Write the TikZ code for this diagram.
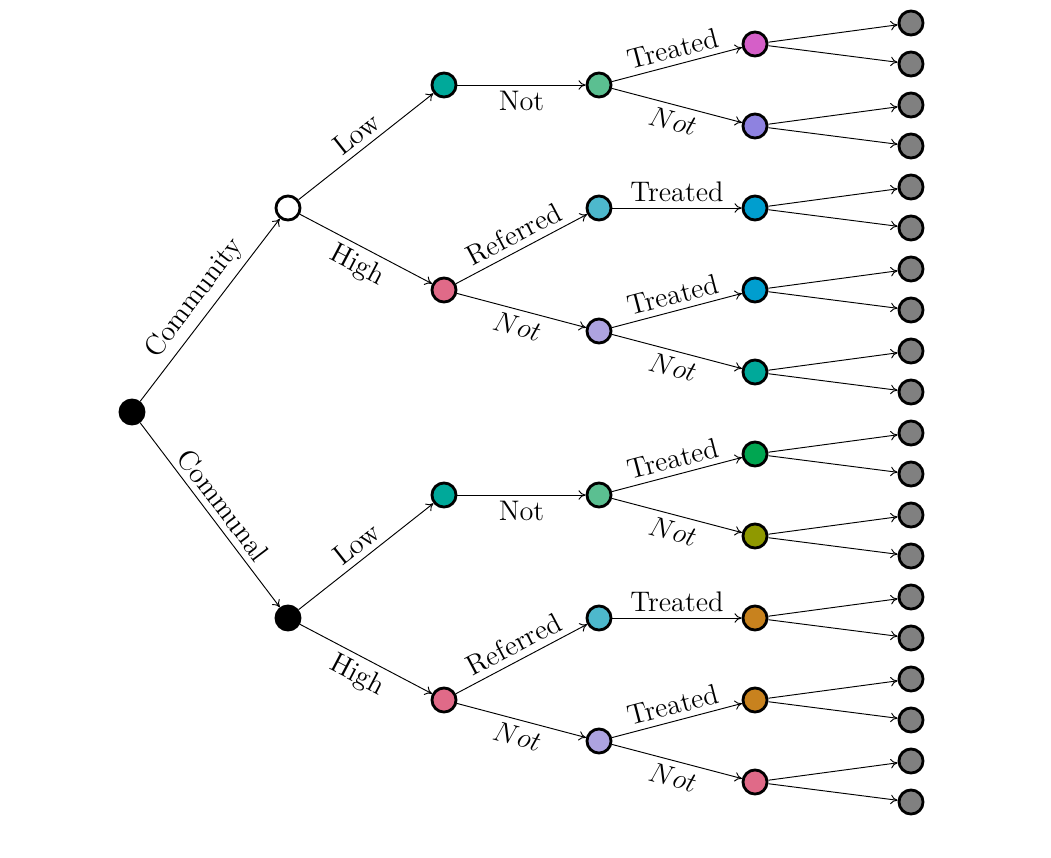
\documentclass[tikz,border=0pt]{standalone}
\usetikzlibrary{arrows.meta}
\definecolor{cteal}{HTML}{00A99A}
\definecolor{cmint}{HTML}{5BBF91}
\definecolor{cmag}{HTML}{D55FC8}
\definecolor{cpur}{HTML}{8E82E0}
\definecolor{ccyan}{HTML}{4DB8CC}
\definecolor{cblue}{HTML}{009ECF}
\definecolor{crose}{HTML}{E06A88}
\definecolor{clav}{HTML}{ADA3E0}
\definecolor{cgreen}{HTML}{00A651}
\definecolor{colive}{HTML}{8F9900}
\definecolor{corange}{HTML}{C8821E}
\begin{document}
\begin{tikzpicture}[x=0.4237pt,y=-0.4237pt,
  dot/.style={circle,draw=black,line width=1.2pt,minimum size=10.2pt,inner sep=0pt},
  edge/.style={-{To[length=3pt,width=4pt]},line width=0.4pt},
  lab/.style={sloped,midway,font=\large,inner sep=2.5pt}]
\useasboundingbox (0,0) rectangle (1051,857);
\node[dot,fill=black] (r) at (132,412) {};
\node[dot,fill=white] (a) at (288,208) {};
\node[dot,fill=black] (b) at (288,618) {};
\node[dot,fill=cteal] (a1) at (444,85) {};
\node[dot,fill=crose] (a2) at (444,290) {};
\node[dot,fill=cteal] (b1) at (444,495) {};
\node[dot,fill=crose] (b2) at (444,700) {};
\node[dot,fill=cmint] (a11) at (599,85) {};
\node[dot,fill=ccyan] (a21) at (599,208) {};
\node[dot,fill=clav] (a22) at (599,331) {};
\node[dot,fill=cmint] (b11) at (599,495) {};
\node[dot,fill=ccyan] (b21) at (599,618) {};
\node[dot,fill=clav] (b22) at (599,741) {};
\node[dot,fill=cmag] (d1) at (755,44) {};
\node[dot,fill=cpur] (d2) at (755,126) {};
\node[dot,fill=cblue] (d3) at (755,208) {};
\node[dot,fill=cblue] (d4) at (755,290) {};
\node[dot,fill=cteal] (d5) at (755,372) {};
\node[dot,fill=cgreen] (d6) at (755,454) {};
\node[dot,fill=colive] (d7) at (755,536) {};
\node[dot,fill=corange] (d8) at (755,618) {};
\node[dot,fill=corange] (d9) at (755,700) {};
\node[dot,fill=crose] (d10) at (755,782) {};
\foreach \i in {1,...,20} {
  \pgfmathsetmacro{\yy}{23+(\i-1)*41}
  \node[dot,fill=gray] (l\i) at (911,\yy) {};
}
\draw[edge] (r) -- node[lab,above] {Community} (a);
\draw[edge] (r) -- node[lab,above] {Communal} (b);
\draw[edge] (a) -- node[lab,above] {Low} (a1);
\draw[edge] (a) -- node[lab,below] {High} (a2);
\draw[edge] (b) -- node[lab,above] {Low} (b1);
\draw[edge] (b) -- node[lab,below] {High} (b2);
\draw[edge] (a1) -- node[lab,below] {Not} (a11);
\draw[edge] (a2) -- node[lab,above] {Referred} (a21);
\draw[edge] (a2) -- node[lab,below] {$Not$} (a22);
\draw[edge] (b1) -- node[lab,below] {Not} (b11);
\draw[edge] (b2) -- node[lab,above] {Referred} (b21);
\draw[edge] (b2) -- node[lab,below] {$Not$} (b22);
\draw[edge] (a11) -- node[lab,above] {Treated} (d1);
\draw[edge] (a11) -- node[lab,below] {$Not$} (d2);
\draw[edge] (a21) -- node[lab,above] {Treated} (d3);
\draw[edge] (a22) -- node[lab,above] {Treated} (d4);
\draw[edge] (a22) -- node[lab,below] {$Not$} (d5);
\draw[edge] (b11) -- node[lab,above] {Treated} (d6);
\draw[edge] (b11) -- node[lab,below] {$Not$} (d7);
\draw[edge] (b21) -- node[lab,above] {Treated} (d8);
\draw[edge] (b22) -- node[lab,above] {Treated} (d9);
\draw[edge] (b22) -- node[lab,below] {$Not$} (d10);
\foreach \d in {1,...,10} {
  \pgfmathtruncatemacro{\p}{2*\d-1}
  \pgfmathtruncatemacro{\q}{2*\d}
  \draw[edge] (d\d) -- (l\p);
  \draw[edge] (d\d) -- (l\q);
}
\end{tikzpicture}
\end{document}
